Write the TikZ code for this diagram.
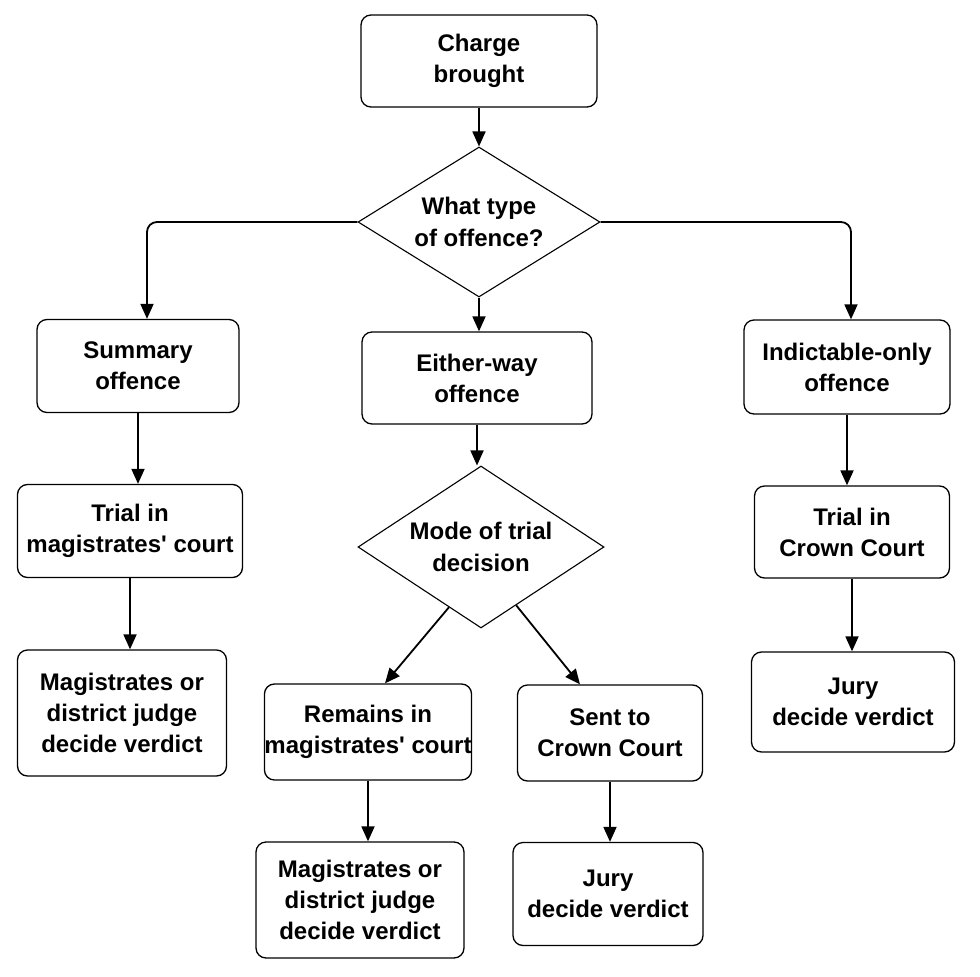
\documentclass[tikz,border=0pt]{standalone}
\usepackage{fontspec}
\setmainfont{Liberation Sans}
\usetikzlibrary{shapes.geometric,arrows.meta,calc}
\begin{document}
\begin{tikzpicture}[x=1pt,y=-1pt,
  box/.style={draw=black, line width=1.3pt, rounded corners=10pt, fill=white,
    align=center, inner sep=0pt, font=\bfseries\fontsize{24}{31}\selectfont},
  dia/.style={draw=black, line width=1.1pt, diamond, fill=white, inner sep=0pt,
    align=center, font=\bfseries\fontsize{24}{32}\selectfont},
  arr/.style={line width=1.8pt, -{Triangle[length=15pt,width=13pt]}, rounded corners=10pt}]
\useasboundingbox[fill=white] (0,0) rectangle (980,977);

\node[box, minimum width=236pt, minimum height=92pt] (cb) at (479,61) {Charge\\brought};
\node[dia, minimum width=242pt, minimum height=150pt, aspect=1.613] (d1) at (479,222) {What type\\of offence?};
\node[box, minimum width=202pt, minimum height=93pt] (sum) at (138,366) {Summary\\offence};
\node[box, minimum width=230pt, minimum height=92pt] (ew) at (477,378) {Either-way\\offence};
\node[box, minimum width=206pt, minimum height=94pt] (ind) at (847,367) {Indictable-only\\offence};
\node[box, minimum width=225pt, minimum height=93pt] (tm) at (130,531) {Trial in\\magistrates\textquotesingle\ court};
\node[dia, minimum width=246pt, minimum height=162pt, aspect=1.52] (d2) at (481,547) {Mode of trial\\decision};
\node[box, minimum width=195pt, minimum height=92pt] (tc) at (852,532) {Trial in\\Crown Court};
\node[box, minimum width=209pt, minimum height=126pt] (mv1) at (122,713) {Magistrates or\\district judge\\decide verdict};
\node[box, minimum width=206pt, minimum height=96pt] (rem) at (368,732) {Remains in\\magistrates\textquotesingle\ court};
\node[box, minimum width=185pt, minimum height=96pt] (sent) at (610,733) {Sent to\\Crown Court};
\node[box, minimum width=203pt, minimum height=100pt] (jv1) at (853,702) {Jury\\decide verdict};
\node[box, minimum width=208pt, minimum height=116pt] (mv2) at (360,900) {Magistrates or\\district judge\\decide verdict};
\node[box, minimum width=190pt, minimum height=103pt] (jv2) at (608,894) {Jury\\decide verdict};

\coordinate (sumin) at ([xshift=9pt]sum.north);
\coordinate (indin) at ([xshift=4pt]ind.north);
\coordinate (o1) at ($(d2.west)!0.74!(d2.south)$);
\coordinate (o2) at ($(d2.east)!0.715!(d2.south)$);
\coordinate (i1) at ([xshift=17pt]rem.north);
\coordinate (i2) at ([xshift=-30pt]sent.north);

\draw[arr] (cb.south) -- (d1.north);
\draw[arr] (d1.west) -| (sumin);
\draw[arr] (d1.east) -| (indin);
\draw[arr] (d1.south) -- (d1.south |- ew.north);
\draw[arr] (sum.south) -- (sum.south |- tm.north);
\draw[arr] (ew.south) -- (ew.south |- d2.north);
\draw[arr] (ind.south) -- (ind.south |- tc.north);
\draw[arr] (tm.south) -- (tm.south |- mv1.north);
\draw[arr] (tc.south) -- (tc.south |- jv1.north);
\draw[arr] (o1) -- (i1);
\draw[arr] (o2) -- (i2);
\draw[arr] (rem.south) -- (rem.south |- mv2.north);
\draw[arr] (sent.south) -- (sent.south |- jv2.north);
\end{tikzpicture}
\end{document}
